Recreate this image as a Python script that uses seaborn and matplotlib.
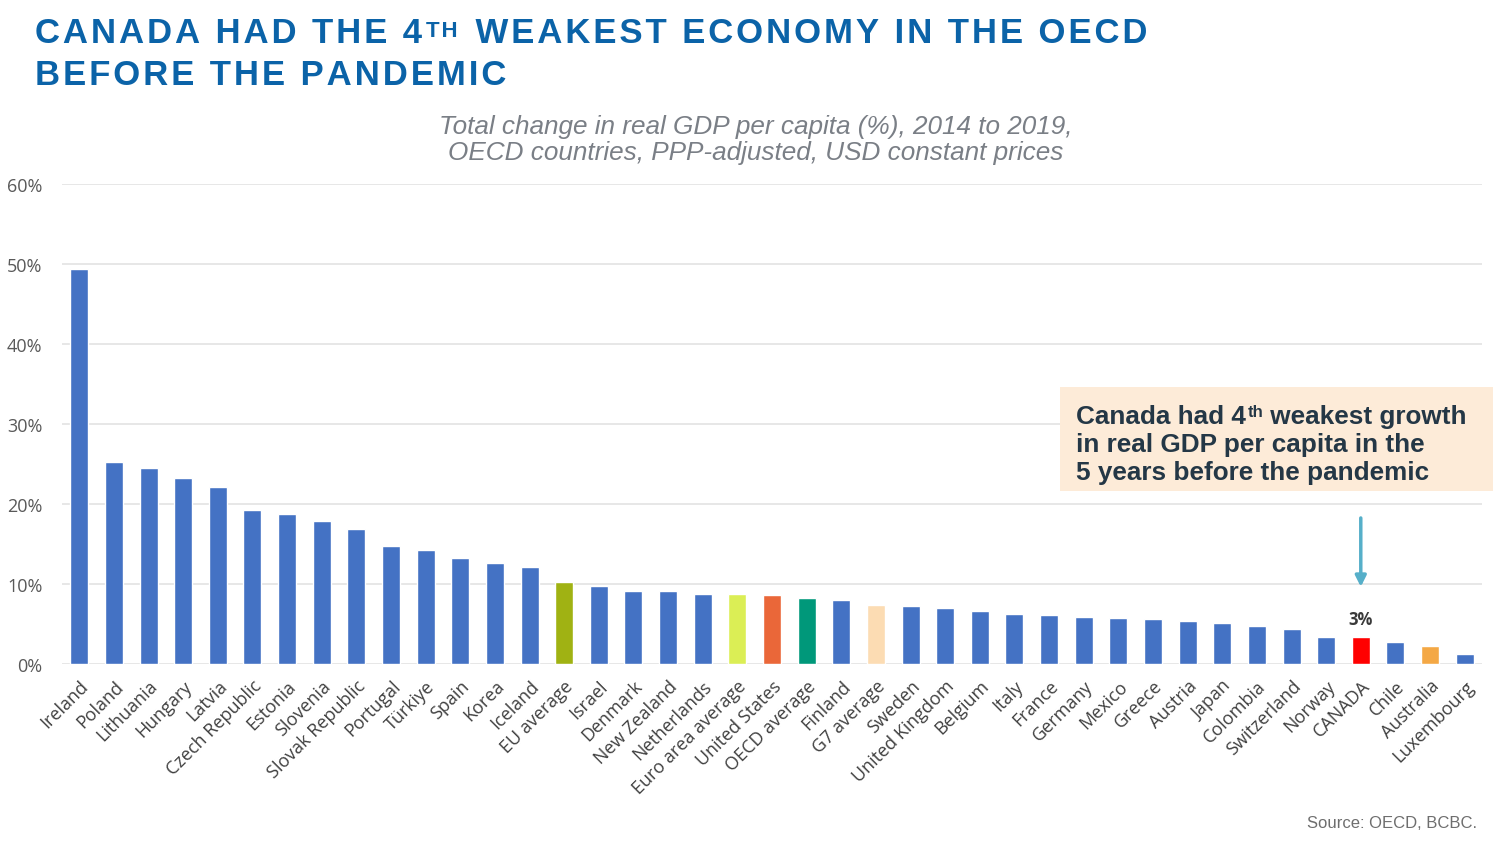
import numpy as np
import pandas as pd
import seaborn as sns
import matplotlib.pyplot as plt
from matplotlib.patches import Rectangle
from matplotlib.text import Annotation

countries = ['Ireland', 'Poland', 'Lithuania', 'Hungary', 'Latvia', 'Czech Republic', 'Estonia',
             'Slovenia', 'Slovak Republic', 'Portugal', 'Türkiye', 'Spain', 'Korea', 'Iceland',
             'EU average', 'Israel', 'Denmark', 'New Zealand', 'Netherlands', 'Euro area average',
             'United States', 'OECD average', 'Finland', 'G7 average', 'Sweden', 'United Kingdom',
             'Belgium', 'Italy', 'France', 'Germany', 'Mexico', 'Greece', 'Austria', 'Japan',
             'Colombia', 'Switzerland', 'Norway', 'CANADA', 'Chile', 'Australia', 'Luxembourg']
growth = [49.4, 25.3, 24.5, 23.3, 22.1, 19.2, 18.8, 17.9, 16.9, 14.8, 14.3, 13.3, 12.6, 12.1,
          10.3, 9.8, 9.1, 9.1, 8.8, 8.7, 8.6, 8.3, 8.0, 7.4, 7.3, 7.0, 6.6, 6.2, 6.1, 5.9,
          5.7, 5.6, 5.4, 5.1, 4.7, 4.4, 3.4, 3.4, 2.7, 2.2, 1.2]
highlight = {'EU average': '#A0B213', 'Euro area average': '#DBEE55', 'United States': '#EA6739',
             'OECD average': '#00987A', 'G7 average': '#FCDCB3', 'CANADA': '#FF0000',
             'Australia': '#F4A845'}
yticks = [0, 10, 20, 30, 40, 50, 60]

df = pd.DataFrame({'country': countries, 'growth': growth})
palette = {c: highlight.get(c, '#4472C4') for c in countries}

sns.set_style('white')
plt.rcParams['font.family'] = ['Liberation Sans', 'DejaVu Sans']

fig = plt.figure(figsize=(15, 8.45), dpi=100)
ax = fig.add_axes([62/1500, 1-665/845, 1420/1500, 480/845])
sns.barplot(data=df, x='country', y='growth', hue='country', palette=palette,
            order=countries, hue_order=countries, width=0.52, saturation=1,
            legend=False, ax=ax, zorder=3)
ax.set_xlim(-0.5, len(countries) - 0.5)
ax.set_ylim(0, 60)
ax.set_yticks(yticks)
ax.set_yticklabels([f'{v}%' for v in yticks], fontsize=13, color='#595959', family='Open Sans')
ax.yaxis.grid(True, color='#E3E3E3', lw=1.2, zorder=0)
ax.tick_params(axis='y', length=0, pad=14)
ax.tick_params(axis='x', length=0, pad=9)
plt.setp(ax.get_xticklabels(), rotation=45, ha='right', rotation_mode='anchor',
         fontsize=13, color='#404040', family='Open Sans')
ax.set_xlabel('')
ax.set_ylabel('')
for s in ax.spines.values():
    s.set_visible(False)

# Canada label and arrow
ci = countries.index('CANADA')
ax.text(ci, growth[ci] + 2.2, '3%', ha='center', va='center', fontsize=12,
        fontweight='bold', color='#3A3A3A', family='Open Sans')
ax.annotate('', xy=(ci, 9.3), xytext=(ci, 18.6),
            arrowprops=dict(arrowstyle='-|>', color='#56AFC9', lw=2.5, mutation_scale=16))

# title with superscript, spaced letters
tc = '#0B63A8'
tk = dict(fontsize=25, fontweight='bold', color=tc)
sp = lambda s: '\u200a'.join(s)
t1 = fig.text(35/1500, 1-43/845, sp('CANADA HAD THE 4'), **tk)
t2 = fig.add_artist(Annotation(sp('TH'), xy=(1, 1), xycoords=t1, xytext=(3, -3),
                               textcoords='offset points', va='top', ha='left',
                               fontsize=16, fontweight='bold', color=tc))
fig.add_artist(Annotation(sp(' WEAKEST ECONOMY IN THE OECD'), xy=(1, 0), xycoords=(t2, t1),
                          xytext=(4, 0), textcoords='offset points', va='bottom', ha='left', **tk))
fig.text(35/1500, 1-85/845, sp('BEFORE THE PANDEMIC'), **tk)

# subtitle
fig.text(756/1500, 1-140/845, 'Total change in real GDP per capita (%), 2014 to 2019,\n'
         'OECD countries, PPP-adjusted, USD constant prices', ha='center', va='center',
         fontsize=18.8, style='italic', color='#7A7F86', linespacing=1.15)

# callout box
fig.patches.append(Rectangle((1060/1500, 1-492/845), 433/1500, 104/845,
                             transform=fig.transFigure, facecolor='#FDEBD8', edgecolor='none',
                             zorder=2))
bk = dict(fontsize=18.8, fontweight='bold', color='#243746')
b1 = fig.text(1076/1500, 1-424/845, 'Canada had 4', **bk)
b2 = fig.add_artist(Annotation('th', xy=(1, 1), xycoords=b1, xytext=(1, 0),
                               textcoords='offset points', va='top', ha='left',
                               fontsize=12, fontweight='bold', color='#243746'))
fig.add_artist(Annotation(' weakest growth', xy=(1, 0), xycoords=(b2, b1),
                          va='bottom', ha='left', **bk))
fig.text(1076/1500, 1-452/845, 'in real GDP per capita in the', **bk)
fig.text(1076/1500, 1-480/845, '5 years before the pandemic', **bk)

fig.text(1477/1500, 1-824/845, 'Source: OECD, BCBC.', ha='right', va='center',
         fontsize=12, color='#6E6E6E')

fig.savefig('out.png', dpi=100)
